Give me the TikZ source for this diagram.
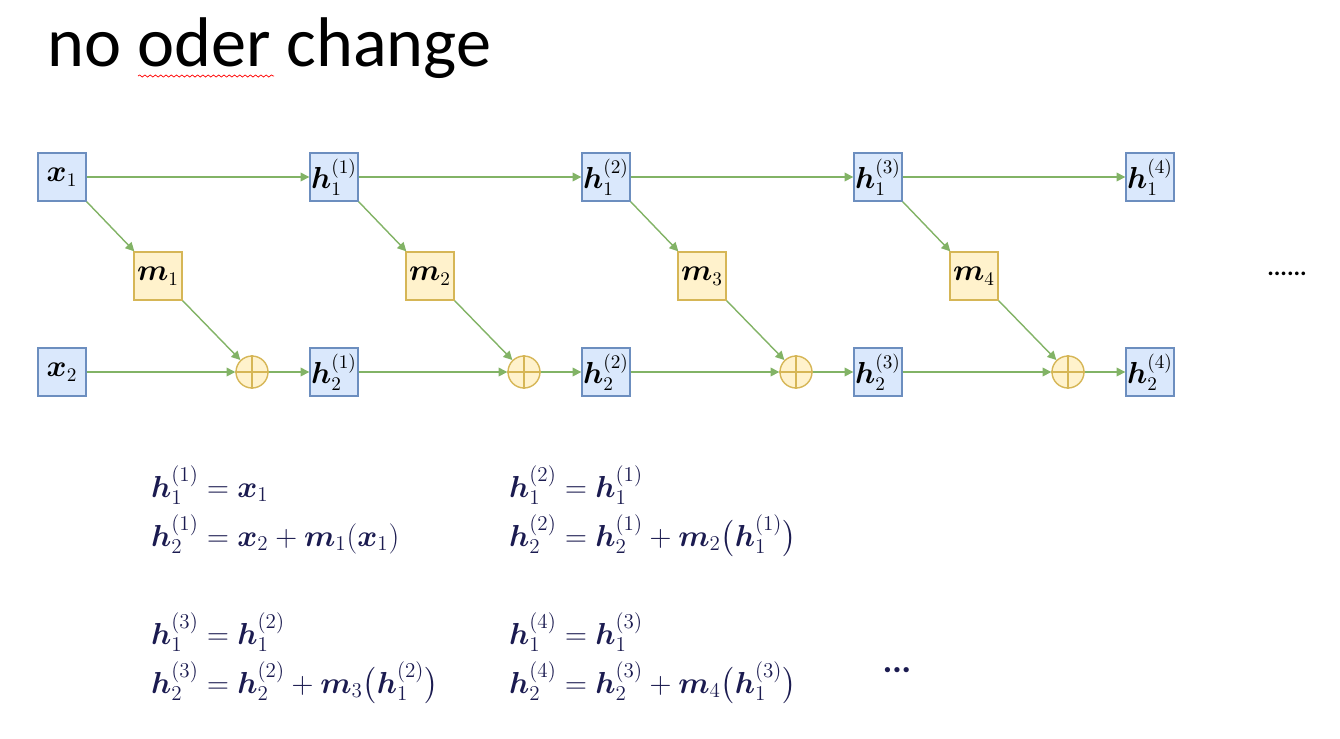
\documentclass[tikz,border=0pt]{standalone}
\usepackage{amsmath}
\usepackage{bm}
\usepackage{fontspec}
\setmainfont{Carlito}
\usetikzlibrary{arrows.meta,positioning,decorations.pathmorphing}
\definecolor{boxblue}{HTML}{DAE8FC}
\definecolor{lineblue}{HTML}{6C8EBF}
\definecolor{boxyellow}{HTML}{FFF2CC}
\definecolor{lineyellow}{HTML}{D6B656}
\definecolor{arrowgreen}{HTML}{82B366}
\definecolor{eqnavy}{HTML}{1B1B50}

\begin{document}
\begin{tikzpicture}[x=0.02cm,y=-0.02cm,
    state/.style={rectangle, draw=lineblue, fill=boxblue, thick, minimum size=0.96cm, inner sep=0pt, font=\fontsize{16}{18}\selectfont},
    coupling/.style={rectangle, draw=lineyellow, fill=boxyellow, thick, minimum size=0.96cm, inner sep=0pt, font=\fontsize{16}{18}\selectfont},
    adder/.style={circle, draw=lineyellow, fill=boxyellow, thick, minimum size=0.64cm, inner sep=0pt},
    arrow/.style={-{Triangle[length=5pt,width=5pt]}, arrowgreen, thick},
    eqn/.style={anchor=base west, text=eqnavy, font=\fontsize{17.5}{20}\selectfont}
]
\useasboundingbox (0,0) rectangle (1340,738);

% Title
\node (title) [anchor=base west, inner sep=0pt, font=\fontsize{40}{46}\selectfont] at (47,66) {no oder change};
\draw[red, decorate, decoration={snake, amplitude=0.6pt, segment length=3pt}] (138,76) -- (274,76);

% Inputs
\node (x1) [state] at (62,177) {$\bm{x}_1$};
\node (x2) [state] at (62,372) {$\bm{x}_2$};

% Layers
\foreach \i [evaluate=\i as \cx using 62+272*\i] in {1,...,4} {
    \node (h1\i) [state] at (\cx,177) {$\bm{h}_1^{(\i)}$};
    \node (h2\i) [state] at (\cx,372) {$\bm{h}_2^{(\i)}$};
    \node (m\i) [coupling] at (\cx-176,276) {$\bm{m}_\i$};
    \node (p\i) [adder] at (\cx-82,372) {};
    \draw[lineyellow, thick] (p\i.north) -- (p\i.south) (p\i.west) -- (p\i.east);
}

% Connections
\draw[arrow] (x1) -- (h11);
\draw[arrow] (x1.south east) -- (m1);
\draw[arrow] (x2) -- (p1);
\foreach \i/\j in {1/2,2/3,3/4} {
    \draw[arrow] (h1\i) -- (h1\j);
    \draw[arrow] (h1\i.south east) -- (m\j);
    \draw[arrow] (h2\i) -- (p\j);
}
\foreach \i in {1,...,4} {
    \draw[arrow] (m\i.south east) -- (p\i);
    \draw[arrow] (p\i) -- (h2\i);
}

\node (dots) [font=\bfseries\fontsize{14}{16}\selectfont] at (1287,274) {......};

% Equations
\node (e11) [eqn] at (145,497) {$\bm{h}_1^{(1)} = \bm{x}_1$};
\node (e12) [eqn] at (145,546) {$\bm{h}_2^{(1)} = \bm{x}_2 + \bm{m}_1(\bm{x}_1)$};
\node (e21) [eqn] at (503,497) {$\bm{h}_1^{(2)} = \bm{h}_1^{(1)}$};
\node (e22) [eqn] at (503,546) {$\bm{h}_2^{(2)} = \bm{h}_2^{(1)} + \bm{m}_2\bigl(\bm{h}_1^{(1)}\bigr)$};
\node (e31) [eqn] at (145,644) {$\bm{h}_1^{(3)} = \bm{h}_1^{(2)}$};
\node (e32) [eqn] at (145,693) {$\bm{h}_2^{(3)} = \bm{h}_2^{(2)} + \bm{m}_3\bigl(\bm{h}_1^{(2)}\bigr)$};
\node (e41) [eqn] at (503,644) {$\bm{h}_1^{(4)} = \bm{h}_1^{(3)}$};
\node (e42) [eqn] at (503,693) {$\bm{h}_2^{(4)} = \bm{h}_2^{(3)} + \bm{m}_4\bigl(\bm{h}_1^{(3)}\bigr)$};
\node (edots) [text=eqnavy, font=\bfseries\fontsize{20}{22}\selectfont] at (897,670) {...};
\end{tikzpicture}
\end{document}
